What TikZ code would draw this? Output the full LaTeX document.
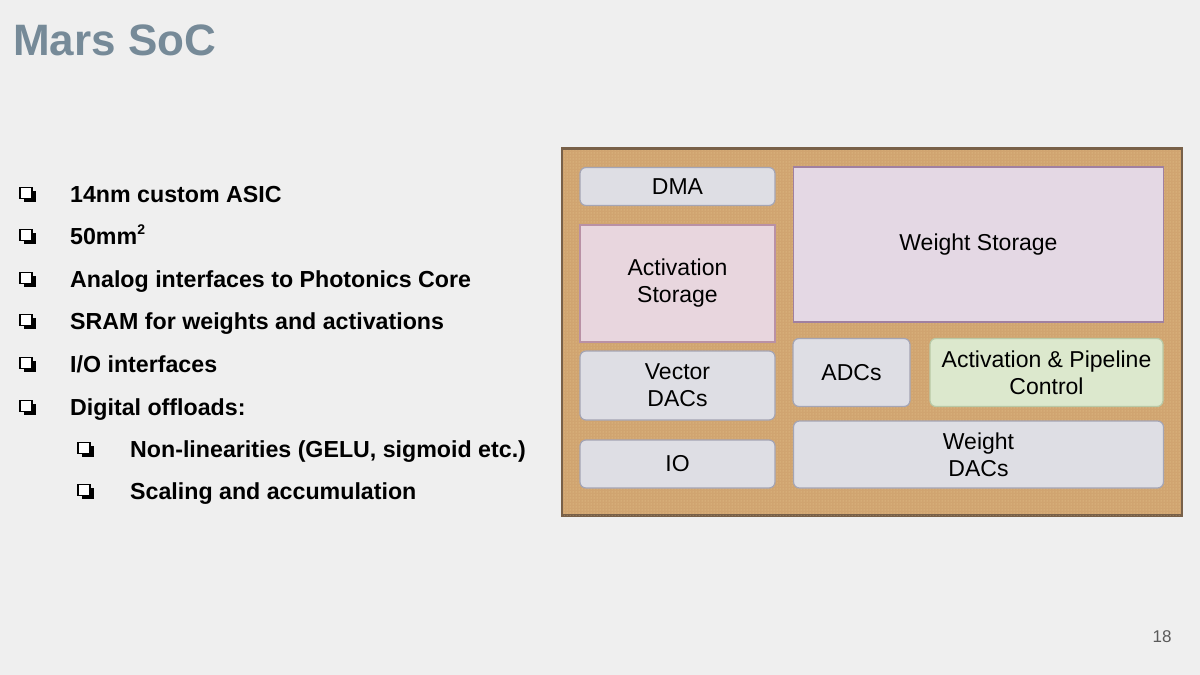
\documentclass[tikz,border=0pt]{standalone}
\usepackage{fontspec}
\setmainfont{Liberation Sans}
\usetikzlibrary{patterns,shadows}
\definecolor{bgc}{RGB}{239,239,239}
\definecolor{titlec}{RGB}{118,138,152}
\definecolor{goldc}{RGB}{208,164,112}
\definecolor{golddot}{RGB}{236,204,150}
\definecolor{chipedge}{RGB}{120,96,72}
\definecolor{grayfill}{RGB}{222,222,228}
\definecolor{grayedge}{RGB}{165,165,180}
\definecolor{pinkfill}{RGB}{232,214,222}
\definecolor{pinkedge}{RGB}{185,145,165}
\definecolor{lavfill}{RGB}{228,216,228}
\definecolor{lavedge}{RGB}{160,128,160}
\definecolor{greenfill}{RGB}{220,232,205}
\definecolor{greenedge}{RGB}{185,200,165}
\definecolor{pagec}{RGB}{90,90,90}
\tikzset{
  blk/.style={draw=grayedge, fill=grayfill, line width=1.2pt, rounded corners=6pt,
    inner sep=0pt, align=center, font=\fontsize{23}{27}\selectfont, text=black},
  store/.style={blk, rounded corners=0pt},
  bulbox/.style={draw=black, fill=white, line width=1.6pt, minimum width=12pt, minimum height=11pt, inner sep=0pt,
    drop shadow={shadow xshift=3.5pt, shadow yshift=-3.5pt, fill=black, opacity=1}},
  btxt/.style={anchor=base west, inner sep=0pt, font=\bfseries\fontsize{23.2}{23}\selectfont, text=black}
}
\begin{document}
\begin{tikzpicture}[x=1pt,y=-1pt]
\useasboundingbox (0,0) rectangle (1200,675);
\fill[bgc] (0,0) rectangle (1200,675);
% title
\node[anchor=base west, inner sep=0pt, text=titlec, font=\bfseries\fontsize{44}{44}\selectfont] (title) at (13,55) {Mars SoC};
% bullets
\node[bulbox] (b1) at (26,193) {}; \node[btxt] (t1) at (70,202) {14nm custom ASIC};
\node[bulbox] (b2) at (26,235) {}; \node[btxt] (t2) at (70,244) {50mm\textsuperscript{\fontsize{14}{14}\selectfont 2}};
\node[bulbox] (b3) at (26,278) {}; \node[btxt] (t3) at (70,287) {Analog interfaces to Photonics Core};
\node[bulbox] (b4) at (26,320) {}; \node[btxt] (t4) at (70,329) {SRAM for weights and activations};
\node[bulbox] (b5) at (26,363) {}; \node[btxt] (t5) at (70,372) {I/O interfaces};
\node[bulbox] (b6) at (26,406) {}; \node[btxt] (t6) at (70,415) {Digital offloads:};
\node[bulbox] (b7) at (84,448) {}; \node[btxt] (t7) at (130,457) {Non-linearities (GELU, sigmoid etc.)};
\node[bulbox] (b8) at (84,490) {}; \node[btxt] (t8) at (130,499) {Scaling and accumulation};
% chip
\node[draw=chipedge, line width=2.2pt, fill=goldc, minimum width=620pt, minimum height=367pt, inner sep=0pt] (chip) at (872,332) {};
\fill[pattern=dots, pattern color=golddot] (564,150) rectangle (1180,515);
% blocks
\node[blk, minimum width=195pt, minimum height=38pt] (dma) at (677.5,186.5) {DMA};
\node[store, draw=pinkedge, fill=pinkfill, minimum width=195pt, minimum height=117pt] (astore) at (677.5,283.5) {Activation\\Storage};
\node[store, draw=lavedge, fill=lavfill, minimum width=370pt, minimum height=155pt] (wstore) at (978.5,244.5) {Weight Storage};
\node[blk, minimum width=195pt, minimum height=69pt] (vdac) at (677.5,385.5) {Vector\\DACs};
\node[blk, minimum width=195pt, minimum height=48pt] (io) at (677.5,464) {IO};
\node[blk, minimum width=117pt, minimum height=68pt] (adc) at (851.5,372.5) {ADCs};
\node[blk, draw=greenedge, fill=greenfill, minimum width=233pt, minimum height=68pt] (apc) at (1046.5,372.5) {Activation \& Pipeline\\Control};
\node[blk, minimum width=370pt, minimum height=67pt] (wdac) at (978.5,454.5) {Weight\\DACs};
% page number
\node[text=pagec, font=\fontsize{17}{17}\selectfont, inner sep=0pt] (page) at (1162,637) {18};
\end{tikzpicture}
\end{document}
